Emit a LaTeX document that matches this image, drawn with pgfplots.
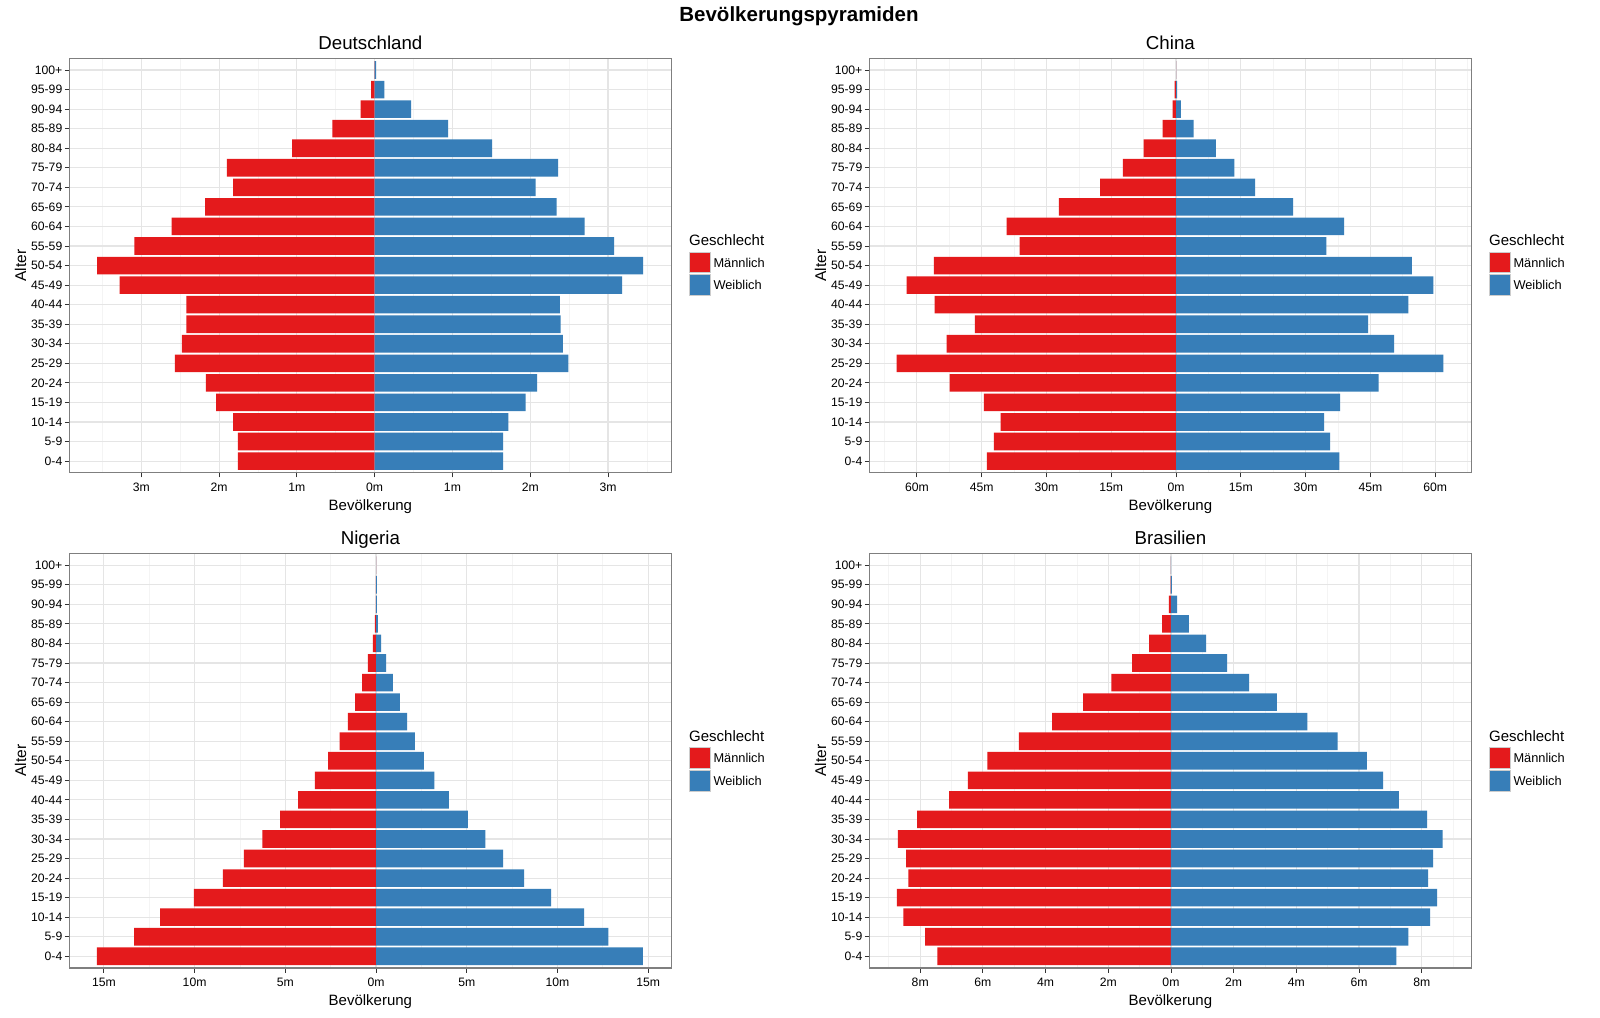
\documentclass[border=0pt]{standalone}
\usepackage{fontspec}
\setmainfont{Liberation Sans}
\usepackage{pgfplots}
\usepackage{pgfplotstable}
\pgfplotsset{compat=1.18}

\definecolor{mred}{HTML}{E41A1C}
\definecolor{fblue}{HTML}{377EB8}
\definecolor{frame}{HTML}{7F7F7F}
\definecolor{gmaj}{HTML}{E5E5E5}
\definecolor{gmin}{HTML}{F4F4F4}
\definecolor{keyedge}{HTML}{CCCCCC}

\newcommand\fs[1]{\fontsize{#1}{#1}\selectfont}

% population in millions per age group (idx 0 = 0-4 ... 20 = 100+), men negative
\pgfplotstableread{
idx m f
0 -1.76 1.65
1 -1.76 1.65
2 -1.82 1.72
3 -2.04 1.94
4 -2.17 2.09
5 -2.57 2.49
6 -2.48 2.42
7 -2.42 2.39
8 -2.42 2.38
9 -3.28 3.18
10 -3.57 3.45
11 -3.09 3.08
12 -2.61 2.70
13 -2.18 2.34
14 -1.82 2.07
15 -1.90 2.36
16 -1.06 1.51
17 -0.545 0.945
18 -0.18 0.47
19 -0.046 0.125
20 -0.004 0.02
}\tabDE

\pgfplotstableread{
idx m f
0 -43.8 37.8
1 -42.2 35.7
2 -40.6 34.3
3 -44.5 38.0
4 -52.4 46.9
5 -64.7 61.9
6 -53.1 50.5
7 -46.6 44.5
8 -55.9 53.8
9 -62.4 59.6
10 -56.1 54.6
11 -36.2 34.8
12 -39.2 38.9
13 -27.1 27.1
14 -17.6 18.3
15 -12.3 13.5
16 -7.5 9.2
17 -3.1 4.1
18 -0.77 1.1
19 -0.35 0.25
20 -0.005 0.01
}\tabCN

\pgfplotstableread{
idx m f
0 -15.38 14.71
1 -13.33 12.80
2 -11.90 11.47
3 -10.04 9.65
4 -8.44 8.16
5 -7.28 7.00
6 -6.27 6.02
7 -5.29 5.06
8 -4.30 4.02
9 -3.37 3.21
10 -2.64 2.64
11 -2.00 2.14
12 -1.55 1.72
13 -1.15 1.32
14 -0.76 0.93
15 -0.45 0.56
16 -0.17 0.28
17 -0.06 0.10
18 -0.01 0.05
19 -0.005 0.05
20 -0.001 0.003
}\tabNG

\pgfplotstableread{
idx m f
0 -7.45 7.19
1 -7.84 7.57
2 -8.54 8.27
3 -8.74 8.49
4 -8.38 8.20
5 -8.45 8.36
6 -8.71 8.67
7 -8.10 8.17
8 -7.08 7.27
9 -6.48 6.77
10 -5.86 6.25
11 -4.85 5.32
12 -3.79 4.35
13 -2.80 3.38
14 -1.90 2.49
15 -1.24 1.79
16 -0.70 1.12
17 -0.28 0.57
18 -0.07 0.20
19 -0.01 0.03
20 -0.001 0.004
}\tabBR

\pgfplotsset{
  pyramid/.style={
    scale only axis, width=602pt, height=414.5pt, anchor=north west,
    ymin=-0.6, ymax=20.6, ytick={0,...,20},
    yticklabels={0-4,5-9,10-14,15-19,20-24,25-29,30-34,35-39,40-44,45-49,50-54,55-59,60-64,65-69,70-74,75-79,80-84,85-89,90-94,95-99,100+},
    xmajorgrids, xminorgrids, ymajorgrids,
    major grid style={draw=gmaj, line width=1.1pt},
    minor grid style={draw=gmin, line width=0.7pt},
    axis line style={draw=frame, line width=1.1pt},
    xtick pos=left, ytick pos=left,
    tick align=outside, major tick length=4.5pt, minor tick length=0pt,
    tick style={draw=black!80, line width=0.9pt},
    xticklabel style={font=\fs{12.2}, anchor=base, inner sep=0pt, yshift=-13.9pt},
    yticklabel style={font=\fs{12.2}, anchor=east, inner sep=0pt, xshift=-2.4pt},
  },
  male/.style={xbar, bar width=0.9, bar shift=0pt, fill=mred, draw=none},
  female/.style={xbar, bar width=0.9, bar shift=0pt, fill=fblue, draw=none},
}

% legend block: #1 left edge, #2 baseline of the title (pt, measured downward)
\newcommand\sexlegend[2]{%
  \begin{scope}[shift={(#1pt,-#2pt)}]
    \node[anchor=base west, inner sep=0pt, font=\fs{15}] at (0,0) {Geschlecht};
    \draw[keyedge, line width=1pt, fill=mred] (0.5pt,-6.5pt) rectangle (21pt,-27.2pt);
    \draw[keyedge, line width=1pt, fill=fblue] (0.5pt,-29pt) rectangle (21pt,-49.8pt);
    \node[anchor=base west, inner sep=0pt, font=\fs{12.8}] at (24.3pt,-21.4pt) {Männlich};
    \node[anchor=base west, inner sep=0pt, font=\fs{12.8}] at (24.3pt,-44pt) {Weiblich};
  \end{scope}%
}

% panel titles and axis titles: #1 plot left edge, #2 plot top edge, #3 title
\newcommand\paneltext[3]{%
  \node[anchor=base, inner sep=0pt, font=\fs{18.7}] at ({#1pt+301pt},{-#2pt+9.3pt}) {#3};
  \node[anchor=base, inner sep=0pt, font=\fs{15}] at ({#1pt+301pt},{-#2pt-451.7pt}) {Bevölkerung};
  \node[anchor=base, rotate=90, inner sep=0pt, font=\fs{15.5}] at ({#1pt-43.4pt},{-#2pt-207.2pt}) {Alter};
}

\begin{document}
\begin{tikzpicture}
\path[use as bounding box, fill=white] (0,0) rectangle (1600pt,-1017pt);

\node[anchor=base, inner sep=0pt, font=\fs{20.5}\bfseries] at (799pt,-21pt) {Bevölkerungspyramiden};

% Deutschland
\begin{axis}[pyramid, at={(69.4pt,-58.3pt)},
  xmin=-3.925, xmax=3.815,
  xtick={-3,-2,-1,0,1,2,3}, xticklabels={3m,2m,1m,0m,1m,2m,3m},
  minor xtick={-3.5,-2.5,-1.5,-0.5,0.5,1.5,2.5,3.5}]
  \addplot[male] table[x=m, y=idx] {\tabDE};
  \addplot[female] table[x=f, y=idx] {\tabDE};
\end{axis}
\paneltext{69.4}{58.3}{Deutschland}
\sexlegend{689}{245.7}

% China
\begin{axis}[pyramid, at={(869.4pt,-58.3pt)},
  xmin=-71.0, xmax=68.4,
  xtick={-60,-45,-30,-15,0,15,30,45,60}, xticklabels={60m,45m,30m,15m,0m,15m,30m,45m,60m},
  minor xtick={-67.5,-52.5,-37.5,-22.5,-7.5,7.5,22.5,37.5,52.5,67.5}]
  \addplot[male] table[x=m, y=idx] {\tabCN};
  \addplot[female] table[x=f, y=idx] {\tabCN};
\end{axis}
\paneltext{869.4}{58.3}{China}
\sexlegend{1489}{245.7}

% Nigeria
\begin{axis}[pyramid, at={(69.4pt,-553.5pt)},
  xmin=-16.90, xmax=16.28,
  xtick={-15,-10,-5,0,5,10,15}, xticklabels={15m,10m,5m,0m,5m,10m,15m},
  minor xtick={-12.5,-7.5,-2.5,2.5,7.5,12.5}]
  \addplot[male] table[x=m, y=idx] {\tabNG};
  \addplot[female] table[x=f, y=idx] {\tabNG};
\end{axis}
\paneltext{69.4}{553.5}{Nigeria}
\sexlegend{689}{741.2}

% Brasilien
\begin{axis}[pyramid, at={(869.4pt,-553.5pt)},
  xmin=-9.62, xmax=9.585,
  xtick={-8,-6,-4,-2,0,2,4,6,8}, xticklabels={8m,6m,4m,2m,0m,2m,4m,6m,8m},
  minor xtick={-9,-7,-5,-3,-1,1,3,5,7,9}]
  \addplot[male] table[x=m, y=idx] {\tabBR};
  \addplot[female] table[x=f, y=idx] {\tabBR};
\end{axis}
\paneltext{869.4}{553.5}{Brasilien}
\sexlegend{1489}{741.2}
\end{tikzpicture}
\end{document}
